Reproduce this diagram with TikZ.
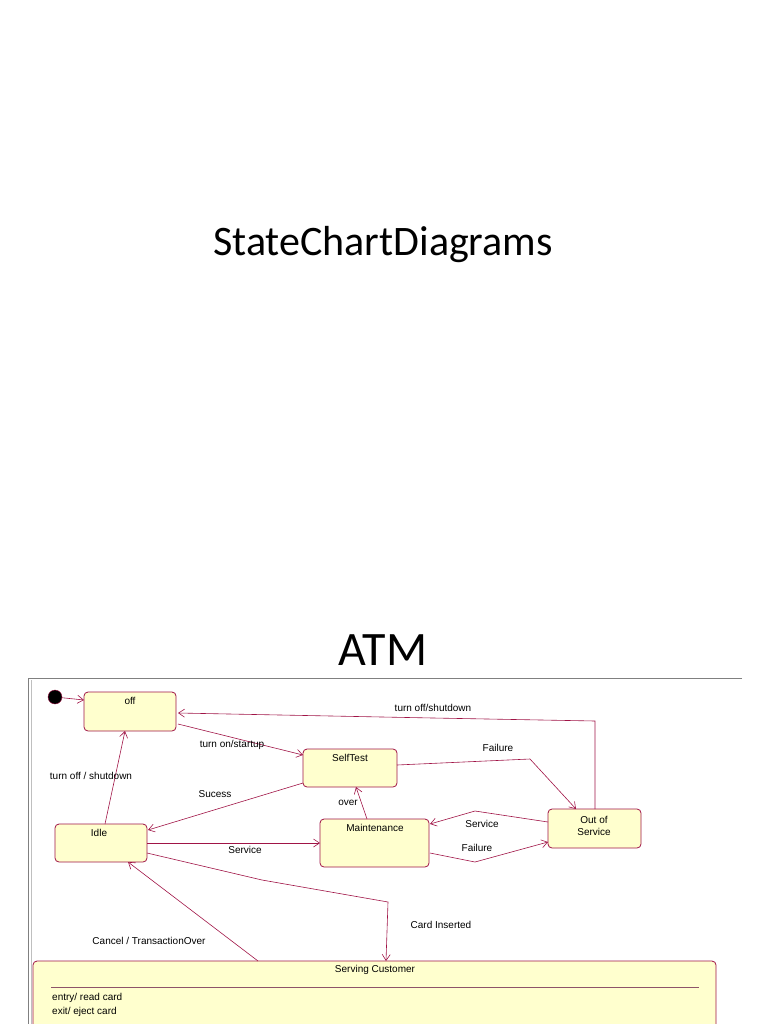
\documentclass[tikz,border=0pt]{standalone}
\usepackage{fontspec}
\setmainfont{Liberation Sans}
\newfontfamily\titlefont{Carlito}
\usetikzlibrary{arrows.meta}
\definecolor{bd}{RGB}{160,20,70}
\definecolor{fl}{RGB}{255,255,206}
\begin{document}
\begin{tikzpicture}[x=1pt,y=-1pt,
  st/.style={draw=bd,fill=fl,rounded corners=4pt,line width=0.8pt},
  tr/.style={draw=bd,line width=0.6pt,-{Straight Barb[length=6pt,width=8pt]}},
  lb/.style={font=\fontsize{10}{12}\selectfont,inner sep=0pt}]
\useasboundingbox (0,0) rectangle (768,1024);
\node[font=\titlefont\fontsize{42}{48}\selectfont] (t1) at (383,245) {StateChartDiagrams};
\node[font=\titlefont\fontsize{48}{54}\selectfont] (t2) at (383,650) {ATM};
\draw[gray,line width=0.8pt] (742,678) -- (28,678) -- (28,1024);
\draw[gray!50,line width=0.8pt] (31,680) -- (31,1024);
% states
\draw[st] (84,692) rectangle (176,731); \node[lb] (off) at (130,711.5) {}; \node[lb] at (130,701) {off};
\coordinate (offB) at (130,711.5);
\draw[st] (303,749) rectangle (397,787); \node[lb] at (350,758) {SelfTest};
\draw[st] (55,824) rectangle (147,862); \node[lb] at (99,833) {Idle};
\draw[st] (320,819) rectangle (429,867); \node[lb] at (375,828) {Maintenance};
\draw[st] (548,809) rectangle (641,848); \node[lb,align=center] at (594,826) {Out of\\Service};
\draw[st] (33,961) rectangle (716,1040);
\node[lb] (sc) at (375,970) {Serving Customer};
\draw[bd!40!gray,line width=0.6pt] (51,987) -- (699,987);
\node[lb,anchor=west] (en) at (52,998) {entry/ read card};
\node[lb,anchor=west] (ex) at (52,1012) {exit/ eject card};
% initial
\node[circle,fill=black,draw=bd,minimum size=14pt,inner sep=0pt] (init) at (55,697) {};
\coordinate (a1) at (84,700);
\draw[tr] (init) -- (a1);
% coordinates
\coordinate (offR1) at (178,724); \coordinate (stL1) at (303,755);
\draw[tr] (offR1) -- (stL1);
\node[lb] at (232,745) {turn on/startup};
\coordinate (osT) at (595,809); \coordinate (b1) at (595,721); \coordinate (b2) at (433,718); \coordinate (offR2) at (178,713);
\draw[tr] (osT) -- (b1) -- (b2) -- (offR2);
\node[lb] at (433,708) {turn off/shutdown};
\coordinate (stR) at (397,765); \coordinate (c1) at (530,759); \coordinate (osT2) at (576,809);
\draw[tr] (stR) -- (c1) -- (osT2);
\node[lb] at (498,748) {Failure};
\coordinate (stL2) at (303,783); \coordinate (idR1) at (148,830);
\draw[tr] (stL2) -- (idR1);
\node[lb] at (215,794) {Sucess};
\coordinate (mT) at (367,819); \coordinate (stB) at (356,787);
\draw[tr] (mT) -- (stB);
\node[lb] at (348,803) {over};
\coordinate (idT) at (105,824); \coordinate (offB2) at (125,731);
\draw[tr] (idT) -- (offB2);
\node[lb] at (91,776) {turn off / shutdown};
\coordinate (idR2) at (147,843); \coordinate (mL) at (320,843);
\draw[tr] (idR2) -- (mL);
\node[lb] at (245,850) {Service};
\coordinate (osL1) at (548,822); \coordinate (d1) at (475,811); \coordinate (mR1) at (430,824);
\draw[tr] (osL1) -- (d1) -- (mR1);
\node[lb] at (482,824) {Service};
\coordinate (mR2) at (430,853); \coordinate (e1) at (475,862); \coordinate (osL2) at (548,842);
\draw[tr] (mR2) -- (e1) -- (osL2);
\node[lb] at (477,848) {Failure};
\coordinate (idR3) at (147,853); \coordinate (f1) at (262,880); \coordinate (f2) at (388,902); \coordinate (scT) at (386,961);
\draw[tr] (idR3) -- (f1) -- (f2) -- (scT);
\node[lb] at (441,925) {Card Inserted};
\coordinate (scT2) at (258,961); \coordinate (idB) at (128,862);
\draw[tr] (scT2) -- (idB);
\node[lb] at (149,941) {Cancel / TransactionOver};
\end{tikzpicture}
\end{document}
